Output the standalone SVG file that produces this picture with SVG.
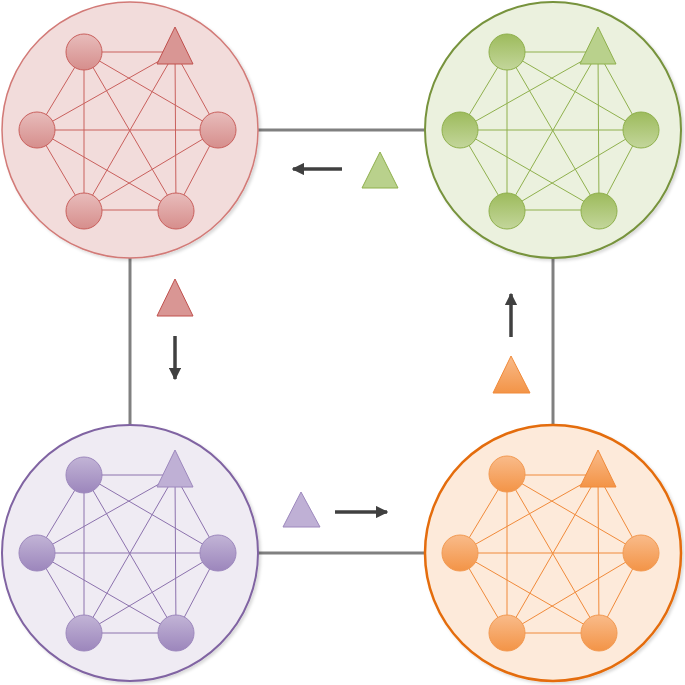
<svg xmlns="http://www.w3.org/2000/svg" width="685" height="685" viewBox="0 0 685 685">
<style>
.conn{stroke:#808080;stroke-width:3;fill:none}
.arr{stroke:#404040;stroke-width:3.5;fill:none;marker-end:url(#ah)}
.ed{fill:none;stroke-width:1}
.red .big{fill:#f2dcdb;stroke:#d27a77;stroke-width:1.5}
.red .ed{stroke:#c9605d}
.red .n{fill:url(#gr);stroke:#c9605d;stroke-width:1}
.red .t{fill:#d99694;stroke:#c0504d;stroke-width:1}
.green .big{fill:#ebf1de;stroke:#77933c;stroke-width:2}
.green .ed{stroke:#8fb04d}
.green .n{fill:url(#gg);stroke:#8fb04d;stroke-width:1}
.green .t{fill:#b9d18c;stroke:#8fb04d;stroke-width:1}
.purple .big{fill:#efebf3;stroke:#8064a2;stroke-width:2}
.purple .ed{stroke:#8c72ad}
.purple .n{fill:url(#gp);stroke:#9d88bd;stroke-width:1}
.purple .t{fill:#bfb0d5;stroke:#9d88bd;stroke-width:1}
.orange .big{fill:#fdeada;stroke:#e46c0a;stroke-width:2.5}
.orange .ed{stroke:#f08a3a}
.orange .n{fill:url(#go);stroke:#f29a52;stroke-width:1}
.orange .t{fill:url(#go);stroke:#f08a3a;stroke-width:1}
</style>
<defs>
<marker id="ah" viewBox="0 0 10 10" refX="9" refY="5" markerWidth="3.6" markerHeight="3.6" orient="auto" markerUnits="strokeWidth">
<path d="M0,0 L10,5 L0,10 Z" fill="#404040"/>
</marker>
<linearGradient id="gr" x1="0" y1="0" x2="0" y2="1"><stop offset="0" stop-color="#e8bcbb"/><stop offset="1" stop-color="#d68e8c"/></linearGradient>
<linearGradient id="gg" x1="0" y1="0" x2="0" y2="1"><stop offset="0" stop-color="#9dbb5c"/><stop offset="1" stop-color="#c3d69b"/></linearGradient>
<linearGradient id="gp" x1="0" y1="0" x2="0" y2="1"><stop offset="0" stop-color="#c2b4d6"/><stop offset="1" stop-color="#9c86bc"/></linearGradient>
<linearGradient id="go" x1="0" y1="0" x2="0" y2="1"><stop offset="0" stop-color="#f9bb8a"/><stop offset="1" stop-color="#f39447"/></linearGradient>
<filter id="sh" x="-10%" y="-10%" width="125%" height="125%"><feDropShadow dx="2" dy="2" stdDeviation="1.5" flood-color="#000" flood-opacity="0.15"/></filter>
</defs>
<g id="connectors">
<line class="conn" x1="258" y1="130" x2="425" y2="130"/>
<line class="conn" x1="130" y1="258" x2="130" y2="425"/>
<line class="conn" x1="258" y1="553" x2="425" y2="553"/>
<line class="conn" x1="553" y1="258" x2="553" y2="425"/>
<line class="arr" x1="342" y1="169" x2="293" y2="169"/>
<line class="arr" x1="175" y1="336" x2="175" y2="379"/>
<line class="arr" x1="335" y1="512" x2="387" y2="512"/>
<line class="arr" x1="511" y1="337" x2="511" y2="294"/>
</g>
<g id="cluster-red" class="red" transform="translate(130,130)">
<circle class="big" r="128" filter="url(#sh)"/>
<path class="ed" d="M-46,-78 L45,-78 M-46,-78 L-93,0 M-46,-78 L88,0 M-46,-78 L-46,80 M-46,-78 L46,80 M45,-78 L-93,0 M45,-78 L88,0 M45,-78 L-46,80 M45,-78 L46,80 M-93,0 L88,0 M-93,0 L-46,80 M-93,0 L46,80 M88,0 L-46,80 M88,0 L46,80 M-46,80 L46,80"/>
<circle class="n" cx="-46" cy="-78" r="18"/>
<polygon class="t" points="45,-103 27,-66 63,-66"/>
<circle class="n" cx="-93" cy="0" r="18"/>
<circle class="n" cx="88" cy="0" r="18"/>
<circle class="n" cx="-46" cy="81" r="18"/>
<circle class="n" cx="46" cy="81" r="18"/>
</g>
<g id="cluster-green" class="green" transform="translate(553,130)">
<circle class="big" r="128" filter="url(#sh)"/>
<path class="ed" d="M-46,-78 L45,-78 M-46,-78 L-93,0 M-46,-78 L88,0 M-46,-78 L-46,80 M-46,-78 L46,80 M45,-78 L-93,0 M45,-78 L88,0 M45,-78 L-46,80 M45,-78 L46,80 M-93,0 L88,0 M-93,0 L-46,80 M-93,0 L46,80 M88,0 L-46,80 M88,0 L46,80 M-46,80 L46,80"/>
<circle class="n" cx="-46" cy="-78" r="18"/>
<polygon class="t" points="45,-103 27,-66 63,-66"/>
<circle class="n" cx="-93" cy="0" r="18"/>
<circle class="n" cx="88" cy="0" r="18"/>
<circle class="n" cx="-46" cy="81" r="18"/>
<circle class="n" cx="46" cy="81" r="18"/>
</g>
<g id="cluster-purple" class="purple" transform="translate(130,553)">
<circle class="big" r="128" filter="url(#sh)"/>
<path class="ed" d="M-46,-78 L45,-78 M-46,-78 L-93,0 M-46,-78 L88,0 M-46,-78 L-46,80 M-46,-78 L46,80 M45,-78 L-93,0 M45,-78 L88,0 M45,-78 L-46,80 M45,-78 L46,80 M-93,0 L88,0 M-93,0 L-46,80 M-93,0 L46,80 M88,0 L-46,80 M88,0 L46,80 M-46,80 L46,80"/>
<circle class="n" cx="-46" cy="-78" r="18"/>
<polygon class="t" points="45,-103 27,-66 63,-66"/>
<circle class="n" cx="-93" cy="0" r="18"/>
<circle class="n" cx="88" cy="0" r="18"/>
<circle class="n" cx="-46" cy="80" r="18"/>
<circle class="n" cx="46" cy="80" r="18"/>
</g>
<g id="cluster-orange" class="orange" transform="translate(553,553)">
<circle class="big" r="128" filter="url(#sh)"/>
<path class="ed" d="M-46,-78 L45,-78 M-46,-78 L-93,0 M-46,-78 L88,0 M-46,-78 L-46,80 M-46,-78 L46,80 M45,-78 L-93,0 M45,-78 L88,0 M45,-78 L-46,80 M45,-78 L46,80 M-93,0 L88,0 M-93,0 L-46,80 M-93,0 L46,80 M88,0 L-46,80 M88,0 L46,80 M-46,80 L46,80"/>
<circle class="n" cx="-46" cy="-79" r="18"/>
<polygon class="t" points="45,-103 27,-66 63,-66"/>
<circle class="n" cx="-93" cy="0" r="18"/>
<circle class="n" cx="88" cy="0" r="18"/>
<circle class="n" cx="-46" cy="80" r="18"/>
<circle class="n" cx="46" cy="80" r="18"/>
</g>
<g id="token-green" class="green"><polygon class="t" points="380,152 362,188 398,188"/></g>
<g id="token-red" class="red"><polygon class="t" points="175,279 157,316 193,316"/></g>
<g id="token-purple" class="purple"><polygon class="t" points="301,492 283,527 320,527"/></g>
<g id="token-orange" class="orange"><polygon class="t" points="511,356 493,393 530,393"/></g>
</svg>
